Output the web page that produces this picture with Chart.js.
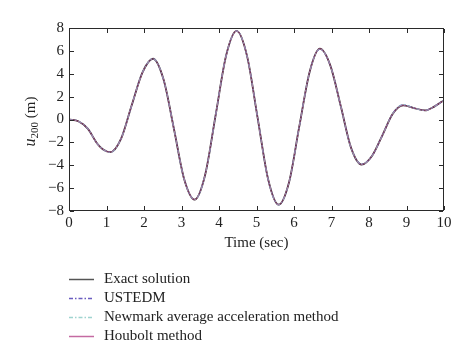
<!DOCTYPE html>
<html>
<head>
<meta charset="utf-8">
<script src="https://cdn.jsdelivr.net/npm/chart.js@4/dist/chart.umd.min.js"></script>
<style>
  html, body { margin: 0; padding: 0; background: #fff; }
</style>
</head>
<body>
<canvas id="chart" width="474" height="363"></canvas>
<script>
// values
const timeSec = [0, 0.25, 0.5, 0.75, 0.9, 1.1, 1.39, 1.67, 1.96, 2.24, 2.52, 2.8, 3.07, 3.35, 3.63,
    3.91, 4.19, 4.47, 4.75, 5.03, 5.31, 5.59, 5.87, 6.14, 6.42, 6.69, 6.97, 7.25, 7.52, 7.8,
    8.08, 8.36, 8.63, 8.91, 9.2, 9.49, 9.75, 10];
const exactSolution = [0, -0.15, -0.8, -2.1, -2.6, -2.86, -1.67, 1.22, 4.12, 5.31, 3.51, -0.85, -5.2, -7.0, -4.85,
    0.37, 5.59, 7.74, 5.52, 0.15, -5.23, -7.45, -5.46, -0.63, 4.2, 6.19, 4.71, 1.13, -2.46, -3.94,
    -3.19, -1.36, 0.48, 1.23, 1.0, 0.79, 1.15, 1.69];
const ustedm = [0, -0.15, -0.8, -2.1, -2.6, -2.86, -1.67, 1.22, 4.12, 5.31, 3.51, -0.85, -5.2, -7.0, -4.85,
    0.37, 5.59, 7.74, 5.52, 0.15, -5.23, -7.45, -5.46, -0.63, 4.2, 6.15, 4.71, 1.13, -2.46, -3.9,
    -3.19, -1.36, 0.5, 1.3, 1.0, 0.79, 1.15, 1.69];
const newmark = [0, -0.15, -0.8, -2.1, -2.6, -2.86, -1.67, 1.22, 4.12, 5.31, 3.51, -0.85, -5.2, -7.0, -4.85,
    0.37, 5.59, 7.74, 5.52, 0.15, -5.23, -7.45, -5.46, -0.63, 4.2, 6.17, 4.71, 1.13, -2.46, -3.92,
    -3.19, -1.36, 0.49, 1.28, 1.0, 0.79, 1.15, 1.69];
const houbolt = [0, -0.15, -0.8, -2.1, -2.6, -2.86, -1.67, 1.22, 4.12, 5.31, 3.51, -0.85, -5.2, -7.0, -4.85,
    0.37, 5.59, 7.74, 5.52, 0.15, -5.23, -7.45, -5.46, -0.63, 4.2, 6.19, 4.71, 1.13, -2.46, -3.94,
    -3.19, -1.36, 0.48, 1.23, 1.0, 0.79, 1.15, 1.69];
const xTicks = [0, 1, 2, 3, 4, 5, 6, 7, 8, 9, 10];
const yTicks = [-8, -6, -4, -2, 0, 2, 4, 6, 8];
const seriesNames = ['Exact solution', 'USTEDM', 'Newmark average acceleration method', 'Houbolt method'];

const serif = '"Liberation Serif", "DejaVu Serif", serif';

function points(values) {
    return timeSec.map((t, i) => ({ x: t, y: values[i] }));
}

function line(label, values, color, width, dash, order, legendColor) {
    return {
        label: label,
        data: points(values),
        borderColor: color,
        legendColor: legendColor,
        borderWidth: width,
        borderDash: dash,
        pointRadius: 0,
        fill: false,
        cubicInterpolationMode: 'monotone',
        order: order
    };
}

// box, inward ticks, axis titles and the legend list below
const decorations = {
    id: 'decorations',
    afterDraw(chart) {
        const ctx = chart.ctx;
        const a = chart.chartArea;
        const xs = chart.scales.x, ys = chart.scales.y;
        const l = Math.round(a.left), t = Math.round(a.top);
        const r = Math.round(a.right), b = Math.round(a.bottom);
        ctx.save();
        ctx.setLineDash([]);
        ctx.globalAlpha = 1;
        ctx.fillStyle = '#2a2a2a';
        // frame as filled 1px strips
        ctx.fillRect(l, t, r - l, 1);
        ctx.fillRect(l, b - 1, r - l, 1);
        ctx.fillRect(l, t, 1, b - t);
        ctx.fillRect(r - 1, t, 1, b - t);
        xTicks.forEach(v => {
            const px = Math.round(xs.getPixelForValue(v));
            ctx.fillRect(px, b - 5, 1, 4);
            ctx.fillRect(px, t + 1, 1, 4);
        });
        yTicks.forEach(v => {
            const py = Math.round(ys.getPixelForValue(v));
            ctx.fillRect(l + 1, py, 4, 1);
            ctx.fillRect(r - 5, py, 4, 1);
        });

        ctx.fillStyle = '#222';
        ctx.textBaseline = 'middle';
        // x title
        ctx.font = '15px ' + serif;
        ctx.textAlign = 'center';
        ctx.fillText('Time (sec)', (a.left + a.right) / 2, 243);

        // y title: u with subscript 200
        ctx.translate(31, (a.top + a.bottom) / 2 + 2);
        ctx.rotate(-Math.PI / 2);
        ctx.textAlign = 'left';
        const partU = 'italic 16px ' + serif, partSub = '11px ' + serif, partM = '15px ' + serif;
        ctx.font = partU; const wU = ctx.measureText('u').width;
        ctx.font = partSub; const wS = ctx.measureText('200').width;
        ctx.font = partM; const wM = ctx.measureText(' (m)').width;
        let x0 = -(wU + wS + wM) / 2;
        ctx.font = partU; ctx.fillText('u', x0, 0); x0 += wU;
        ctx.font = partSub; ctx.fillText('200', x0, 4); x0 += wS;
        ctx.font = partM; ctx.fillText(' (m)', x0, 0);
        ctx.setTransform(1, 0, 0, 1, 0, 0);

        // legend
        ctx.font = '15px ' + serif;
        chart.data.datasets.forEach((ds, i) => {
            const y = 279 + i * 19;
            ctx.strokeStyle = ds.legendColor;
            ctx.lineWidth = 1.5;
            ctx.setLineDash(ds.borderDash || []);
            ctx.beginPath();
            ctx.moveTo(69, y + 0.5); ctx.lineTo(94, y + 0.5);
            ctx.stroke();
            ctx.setLineDash([]);
            ctx.fillStyle = '#222';
            ctx.fillText(ds.label, 104, y);
        });
        ctx.restore();
    }
};

new Chart(document.getElementById('chart'), {
    type: 'line',
    data: {
        datasets: [
            line(seriesNames[0], exactSolution, '#3a3035', 1.8, [], 4, '#555555'),
            line(seriesNames[1], ustedm, '#6a5cc0', 1.1, [4, 2, 1.5, 2], 3, '#6a5cc0'),
            line(seriesNames[2], newmark, '#8fd0cc', 1.1, [4, 2, 1.5, 2], 2, '#9fd4d0'),
            line(seriesNames[3], houbolt, 'rgba(180, 70, 130, 0.55)', 1.2, [], 1, '#c46aa2')
        ]
    },
    plugins: [decorations],
    options: {
        responsive: false,
        animation: false,
        layout: { padding: { left: 39, top: 28, right: 30, bottom: 122 } },
        plugins: { legend: { display: false }, tooltip: { enabled: false } },
        scales: {
            x: {
                type: 'linear',
                min: 0,
                max: 10,
                afterFit: s => { s.height = 30; },
                afterBuildTicks: s => { s.ticks = xTicks.map(v => ({ value: v })); },
                grid: { display: false, drawTicks: false },
                border: { display: false },
                ticks: { color: '#222', padding: 3, maxRotation: 0, font: { family: serif, size: 15 } }
            },
            y: {
                type: 'linear',
                min: -8,
                max: 8,
                afterFit: s => { s.width = 30; },
                afterBuildTicks: s => { s.ticks = yTicks.map(v => ({ value: v })); },
                grid: { display: false, drawTicks: false },
                border: { display: false },
                ticks: {
                    color: '#222',
                    padding: 5,
                    font: { family: serif, size: 15 },
                    callback: v => String(v).replace('-', '\u2212')
                }
            }
        }
    }
});
</script>
</body>
</html>
